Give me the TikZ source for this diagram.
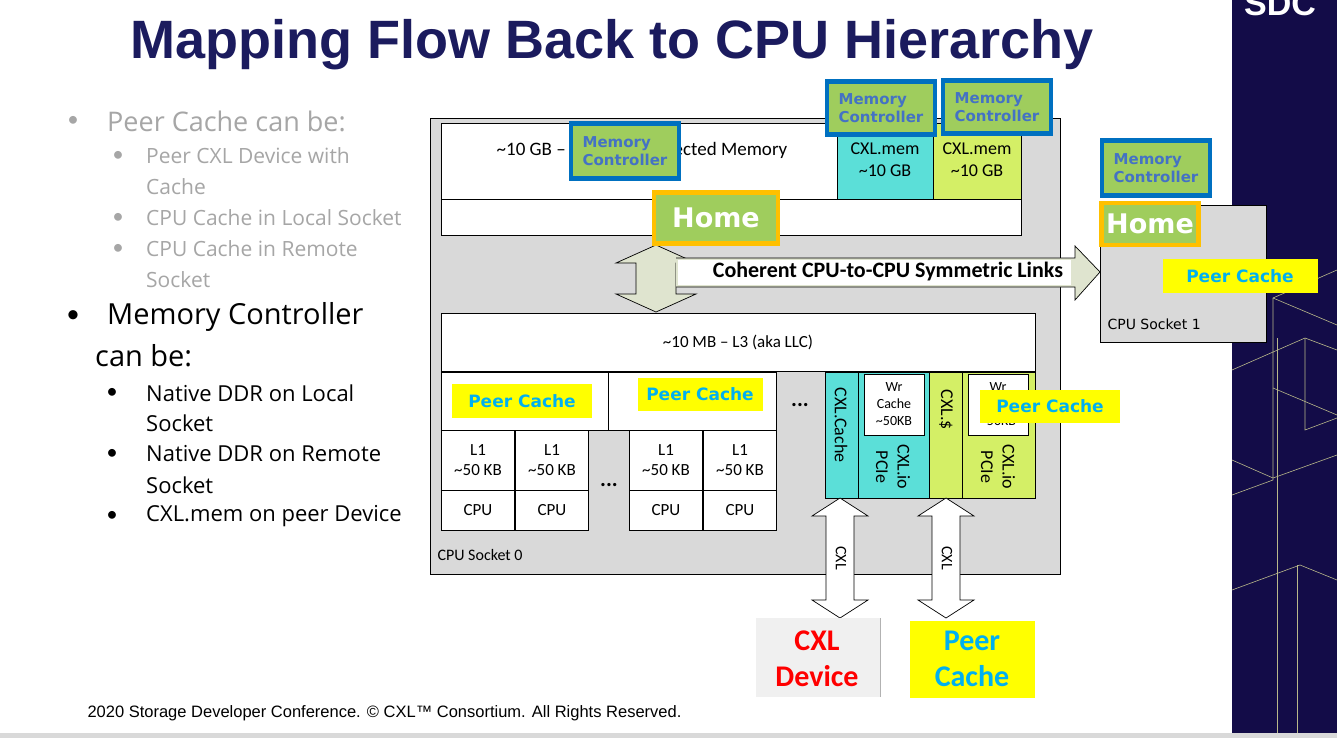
\documentclass[tikz,border=0pt]{standalone}
\usepackage{fontspec}
\setmainfont{Carlito}
\newfontfamily\arialf{Liberation Sans}
\newfontfamily\verd{DejaVu Sans}
\newfontfamily\opens{Open Sans}
\definecolor{navy}{HTML}{1B1B5E}
\definecolor{panel}{HTML}{130C48}
\definecolor{sock}{HTML}{D9D9D9}
\definecolor{mcg}{HTML}{9FCD5D}
\definecolor{mcb}{HTML}{0070C0}
\definecolor{mct}{HTML}{4472C4}
\definecolor{homeo}{HTML}{FFC000}
\definecolor{pcy}{HTML}{FFFF00}
\definecolor{pct}{HTML}{00B0F0}
\definecolor{cyanb}{HTML}{5BDFD8}
\definecolor{limeb}{HTML}{D4EF66}
\definecolor{arrf}{HTML}{DFE4CF}
\definecolor{gtxt}{HTML}{A6A6A6}
\definecolor{lline}{HTML}{B9B98A}
\newcommand{\fs}[1]{\fontsize{#1}{\fpeval{#1*1.2}}\selectfont}
\begin{document}
\begin{tikzpicture}[x=1pt,y=-1pt,
 box/.style={draw=black,line width=0.8pt,fill=white},
 mc/.style={draw=mcb,line width=4.5pt,fill=mcg,text=mct,font=\verd\bfseries\fs{15},align=left,inner sep=0pt},
 home/.style={draw=homeo,line width=4.5pt,fill=mcg,text=white,font=\verd\bfseries\fs{27},inner sep=0pt},
 pc/.style={fill=pcy,text=pct,font=\verd\bfseries\fs{17},inner sep=0pt},
 lab/.style={font=\fs{16},align=center},
 arr/.style={draw=black,line width=0.7pt,line join=miter},
 bul/.style={anchor=west,text=gtxt,font=\opens\fs{21},inner sep=0pt},
 dot/.style={text=gtxt,font=\fs{22},inner sep=0pt}]
\useasboundingbox (0,0) rectangle (1337,738);
\fill[white] (0,0) rectangle (1337,738);
% right panel
\fill[panel] (1232,0) rectangle (1337,733);
\node[text=white,font=\arialf\bfseries\fs{34},anchor=north west,inner sep=0pt] (sdc) at (1244,-8) {SDC};
\begin{scope}[draw=lline,line width=0.6pt]
\draw (1337,270)--(1273,298)--(1273,480)--(1232,495);
\draw (1273,298)--(1337,325);
\draw (1232,370)--(1305,338)--(1337,350);
\draw (1273,388)--(1337,415);
\draw (1305,338)--(1305,430)--(1337,418);
\draw (1232,460)--(1273,478)--(1337,455);
\draw (1277,338)--(1277,733);
\draw (1232,590)--(1300,565)--(1337,580);
\draw (1297,565)--(1297,733);
\end{scope}
\fill[gray!30] (0,733) rectangle (1337,738);
% title
\node[text=navy,font=\arialf\bfseries\fs{54}] (title) at (612,45) {Mapping Flow Back to CPU Hierarchy};
% left bullets
\node[dot] (d01) at (73,121) {•};
\node[bul,font=\opens\fs{27}] (b1) at (107,121) {Peer Cache can be:};
\node[dot] (d02) at (118,156) {•};
\node[bul] (b2) at (146,156) {Peer CXL Device with};
\node[bul] (b2b) at (146,187) {Cache};
\node[dot] (d03) at (118,218) {•};
\node[bul] (b3) at (146,218) {CPU Cache in Local Socket};
\node[dot] (d04) at (118,249) {•};
\node[bul] (b4) at (146,249) {CPU Cache in Remote};
\node[bul] (b4b) at (146,280) {Socket};
\node[dot,text=black,font=\fs{26}] (d05) at (73,317) {•};
\node[bul,text=black,font=\opens\fs{29}] (b5) at (107,317) {Memory Controller};
\node[bul,text=black,font=\opens\fs{29}] (b5b) at (95,356) {can be:};
\node[dot,text=black] (d06) at (112,393) {•};
\node[bul,text=black,font=\opens\fs{22}] (b6) at (146,393) {Native DDR on Local};
\node[bul,text=black,font=\opens\fs{22}] (b6b) at (146,423) {Socket};
\node[dot,text=black] (d07) at (112,454) {•};
\node[bul,text=black,font=\opens\fs{22}] (b7) at (146,454) {Native DDR on Remote};
\node[bul,text=black,font=\opens\fs{22}] (b7b) at (146,485) {Socket};
\node[dot,text=black] (d08) at (112,516) {•};
\node[bul,text=black,font=\opens\fs{22}] (b8) at (146,516) {CXL.mem on peer Device};
% socket 0
\draw[fill=sock,line width=0.8pt] (430,118) rectangle (1060,574);
\node[anchor=west,font=\fs{16}] (s0) at (434,555) {CPU Socket 0};
\draw[box] (441,123) rectangle (1021,235);
\draw[line width=0.8pt] (441,199)--(1021,199);
\node[lab,font=\fs{19}] (mem) at (642,162) {\textasciitilde10 GB – Directly Connected Memory\\(DDR)};
\draw[box,fill=cyanb] (837,123) rectangle (933,199);
\draw[box,fill=limeb] (933,123) rectangle (1021,199);
\node[lab,font=\fs{18}] (cm1) at (885,160) {CXL.mem\\\textasciitilde10 GB};
\node[lab,font=\fs{18}] (cm2) at (977,160) {CXL.mem\\\textasciitilde10 GB};
\node[mc,minimum width=108,minimum height=55] (mc0) at (625,151) {Memory\\Controller};
\node[mc,minimum width=108,minimum height=53] (mc1) at (881,108) {Memory\\Controller};
\node[mc,minimum width=108,minimum height=53] (mc2) at (997,107) {Memory\\Controller};
% socket 1
\draw[fill=sock,line width=0.8pt] (1100,205) rectangle (1266,342);
\node[anchor=west,font=\verd\fs{14}] (s1) at (1104,324) {CPU Socket 1};
\node[mc,minimum width=108,minimum height=55] (mc3) at (1156,168) {Memory\\Controller};
\node[home,minimum width=97,minimum height=42] (home1) at (1150,224) {Home};
\node[pc,minimum width=155,minimum height=34] (pc1) at (1240,276) {Peer Cache};
% arrows
\draw[arr,fill=arrf] (656,245)--(696,263)--(676,263)--(676,294)--(696,294)--(656,312)--(616,294)--(636,294)--(636,263)--(616,263)--cycle;
\draw[arr,fill=arrf] (676,258)--(1075,258)--(1075,246)--(1100,272)--(1075,300)--(1075,287)--(676,287);
\fill[white] (678,260) rectangle (1071,285);
\node[font=\bfseries\fs{22}] (hal) at (888,272) {Coherent CPU-to-CPU Symmetric Links};
\node[home,minimum width=124,minimum height=51] (home0) at (716,218) {Home};
% L3
\draw[box] (441,313) rectangle (1035,371);
\node[lab,font=\fs{17}] (l3) at (738,342) {\textasciitilde10 MB – L3 (aka LLC)};
\draw[box] (441,372) rectangle (608,430);
\draw[box] (608,372) rectangle (776,430);
\node[pc,minimum width=140,minimum height=34] (pc2) at (522,401) {Peer Cache};
\node[pc,minimum width=125,minimum height=33] (pc3) at (700,394) {Peer Cache};
\foreach \x/\n in {441/a,515/b,629/c,703/d}{
 \draw[box] (\x,430) rectangle ++(73,60);
 \node[lab,font=\fs{17}] (l1\n) at (\x+37,460) {L1\\\textasciitilde50 KB};
 \draw[box] (\x,490) rectangle ++(73,40);
 \node[lab,font=\fs{17}] (cpu\n) at (\x+37,510) {CPU};
}
\node[font=\bfseries\fs{22}] (d1) at (609,485) {...};
\node[font=\bfseries\fs{22}] (d2) at (800,405) {...};
% CXL columns
\draw[box,fill=cyanb] (825,372) rectangle (858,498);
\draw[box,fill=cyanb] (858,372) rectangle (929,498);
\draw[box,fill=limeb] (929,372) rectangle (962,498);
\draw[box,fill=limeb] (962,372) rectangle (1035,498);
\node[lab,rotate=-90,font=\fs{18}] (cc) at (841,425) {CXL.Cache};
\node[lab,rotate=-90,font=\fs{18}] (cs) at (946,410) {CXL.\$};
\draw[box] (864,374) rectangle (924,435);
\draw[box] (968,374) rectangle (1028,435);
\node[lab,font=\fs{14}] (wr1) at (894,404) {Wr\\Cache\\\textasciitilde50KB};
\node[lab,font=\fs{14}] (wr2) at (998,404) {Wr\\Cache\\\textasciitilde50KB};
\node[lab,rotate=-90,font=\fs{18}] (io1) at (893,467) {CXL.io\\PCIe};
\node[lab,rotate=-90,font=\fs{18}] (io2) at (998,467) {CXL.io\\PCIe};
\node[pc,minimum width=140,minimum height=33] (pc4) at (1050,406) {Peer Cache};
% CXL vertical arrows
\foreach \c/\n in {840/1,946/2}{
 \draw[arr,fill=white] (\c,498)--(\c+28,516)--(\c+14,516)--(\c+14,600)--(\c+28,600)--(\c,618)--(\c-28,600)--(\c-14,600)--(\c-14,516)--(\c-28,516)--cycle;
 \node[rotate=-90,font=\fs{16}] (cl\n) at (\c+1,558) {CXL};
}
% bottom boxes
\fill[gray!12] (756,618) rectangle (880,697);
\draw[gray!60] (880,618)--(880,697);
\node[text=red,font=\bfseries\fs{30},align=center] (dev) at (817,659) {CXL\\Device};
\node[pc,minimum width=125,minimum height=77,font=\bfseries\fs{30},align=center] (pcb) at (972,659) {Peer\\Cache};
\node[anchor=west,font=\arialf\fs{16.5}] (foot) at (84,713) {2020 Storage Developer Conference. © CXL™ Consortium.  All Rights Reserved.};
\end{tikzpicture}
\end{document}
